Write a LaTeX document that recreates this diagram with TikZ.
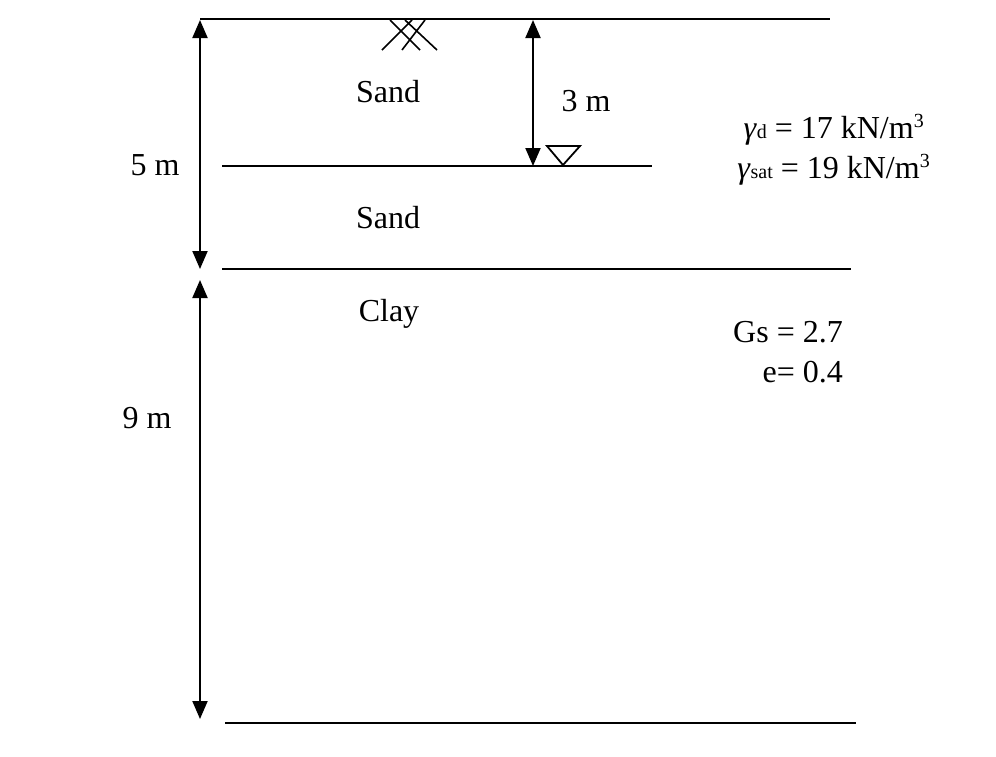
\documentclass[tikz,border=0pt]{standalone}
\usepackage{fontspec}
\setmainfont{Liberation Serif}
\usetikzlibrary{arrows.meta}
\newcommand{\bigfs}{\fontsize{32}{36}\selectfont}
\newcommand{\smlfs}{\fontsize{20}{22}\selectfont}
\begin{document}
\begin{tikzpicture}[x=1pt,y=-1pt,
  lay/.style={line width=2pt},
  dim/.style={line width=2pt,{Triangle[length=18pt,width=15pt]}-{Triangle[length=18pt,width=15pt]}},
  lbl/.style={font=\bigfs,inner sep=0pt}]
\useasboundingbox (0,0) rectangle (996,756);
\coordinate (t1) at (200,19); \coordinate (t2) at (830,19);
\coordinate (w1) at (222,166); \coordinate (w2) at (652,166);
\coordinate (c1) at (222,269); \coordinate (c2) at (851,269);
\coordinate (b1) at (225,723); \coordinate (b2) at (856,723);
\draw[lay] (t1)--(t2); \draw[lay] (w1)--(w2); \draw[lay] (c1)--(c2); \draw[lay] (b1)--(b2);
\coordinate (a1) at (200,20); \coordinate (a2) at (200,269);
\coordinate (a3) at (200,280); \coordinate (a4) at (200,719);
\coordinate (a5) at (533,20); \coordinate (a6) at (533,166);
\draw[dim] (a1)--(a2); \draw[dim] (a3)--(a4); \draw[dim] (a5)--(a6);
% ground hatch
\draw[line width=1.6pt] (382,50)--(412,20) (402,50)--(425,20) (390,20)--(420,50) (405,20)--(437,50);
% water table
\draw[line width=1.8pt] (547,146)--(580,146)--(563,165)--cycle;
\node[lbl] (s1) at (388,92) {Sand};
\node[lbl] (s2) at (388,218) {Sand};
\node[lbl] (cl) at (389,314) {Clay};
\node[lbl] (m5) at (155,165) {5 m};
\node[lbl] (m9) at (147,418) {9 m};
\node[lbl] (m3) at (586,101) {3 m};
\node[lbl,anchor=east] (gd) at (924,130) {\textit{γ}\smlfs d\bigfs{} = 17 kN/m\raisebox{11pt}{\smlfs 3}};
\node[lbl,anchor=east] (gs) at (930,170) {\textit{γ}\smlfs sat\bigfs{} = 19 kN/m\raisebox{11pt}{\smlfs 3}};
\node[lbl,anchor=east] (g) at (843,332) {Gs = 2.7};
\node[lbl,anchor=east] (e) at (843,372) {e= 0.4};
\end{tikzpicture}
\end{document}
